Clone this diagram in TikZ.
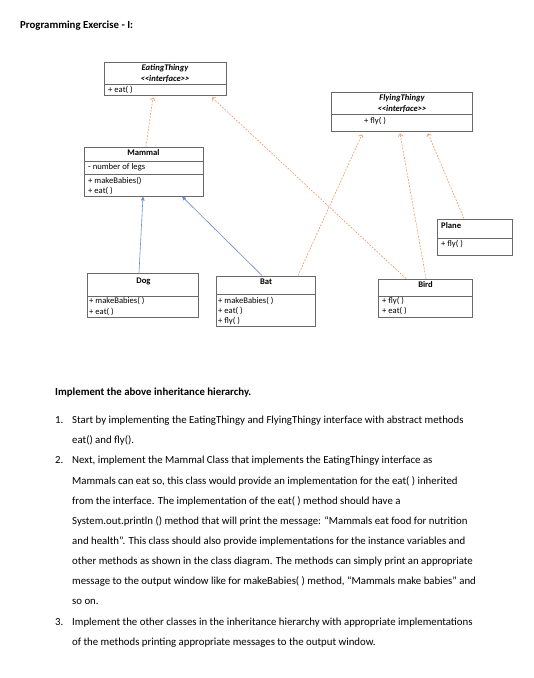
\documentclass[tikz,border=0pt]{standalone}
\usepackage{fontspec}
\setmainfont{Carlito}
\usetikzlibrary{arrows.meta}

\definecolor{implline}{RGB}{240,150,95}
\definecolor{inhline}{RGB}{105,140,210}
\definecolor{boxline}{RGB}{105,105,105}

\tikzset{
  classbox/.style={draw=boxline,line width=0.9pt,inner sep=0pt},
  divider/.style={draw=boxline,line width=0.9pt},
  member/.style={anchor=mid west,inner sep=0pt,font=\fontsize{8.6}{10}\selectfont},
  cname/.style={anchor=mid,inner sep=0pt,font=\fontsize{8.6}{10}\selectfont\bfseries},
  iname/.style={cname,font=\fontsize{8.6}{10}\selectfont\bfseries\itshape},
  impl/.style={draw=implline,line width=0.6pt,dash pattern=on 1.8pt off 1.4pt,
    -{Straight Barb[length=2.5pt,width=5pt]}},
  inh/.style={draw=inhline,line width=0.6pt,-{Triangle[length=4pt,width=3.5pt]}},
  body/.style={anchor=mid west,inner sep=0pt,font=\fontsize{10.8}{13}\selectfont}
}

\begin{document}
\begin{tikzpicture}[x=1pt,y=-1pt]
  \fill[white] (0,0) rectangle (534,678);
  \useasboundingbox (0,0) rectangle (534,678);

  \node[body,font=\fontsize{10.8}{13}\selectfont\bfseries] (title) at (20,26) {Programming Exercise - I:};

  % class boxes
  \node[classbox,minimum width=122pt,minimum height=33pt] (eat) at (165,78.5) {};
  \node[classbox,minimum width=141pt,minimum height=39pt] (fly) at (401.5,111.5) {};
  \node[classbox,minimum width=75pt,minimum height=36pt] (plane) at (474.5,237) {};
  \node[classbox,minimum width=119pt,minimum height=49pt] (mammal) at (143.5,171.5) {};
  \node[classbox,minimum width=111pt,minimum height=44pt] (dog) at (142.5,295) {};
  \node[classbox,minimum width=99pt,minimum height=50pt] (bat) at (265.5,301) {};
  \node[classbox,minimum width=94pt,minimum height=38pt] (bird) at (425,298) {};

  \draw[divider] (eat.west |- 0,84) -- (eat.east |- 0,84);
  \draw[divider] (fly.west |- 0,114) -- (fly.east |- 0,114);
  \draw[divider] (plane.west |- 0,238) -- (plane.east |- 0,238);
  \draw[divider] (mammal.west |- 0,161) -- (mammal.east |- 0,161);
  \draw[divider] (mammal.west |- 0,174) -- (mammal.east |- 0,174);
  \draw[divider] (dog.west |- 0,296) -- (dog.east |- 0,296);
  \draw[divider] (bat.west |- 0,294) -- (bat.east |- 0,294);
  \draw[divider] (bird.west |- 0,296) -- (bird.east |- 0,296);

  % box texts
  \node[iname] (eatname) at (165,68) {EatingThingy};
  \node[iname] (eatstereo) at (165,79) {<{}<interface>{}>};
  \node[member] (eatop) at (108,90) {+ eat( )};

  \node[iname] (flyname) at (402,98) {FlyingThingy};
  \node[iname] (flystereo) at (402,109) {<{}<interface>{}>};
  \node[member] (flyop) at (364,121) {+ fly( )};

  \node[cname,anchor=mid west] (planename) at (441,226) {Plane};
  \node[member] (planeop) at (441,244) {+ fly( )};

  \node[cname] (mammalname) at (143.5,153) {Mammal};
  \node[member] (mammalattr) at (88,167) {- number of legs};
  \node[member] (mammalop1) at (88,181) {+ makeBabies()};
  \node[member] (mammalop2) at (88,191) {+ eat( )};

  \node[cname] (dogname) at (143.5,281) {Dog};
  \node[member] (dogop1) at (89,301) {+ makeBabies( )};
  \node[member] (dogop2) at (89,312) {+ eat( )};

  \node[cname] (batname) at (266,282) {Bat};
  \node[member] (batop1) at (218,301) {+ makeBabies( )};
  \node[member] (batop2) at (218,311) {+ eat( )};
  \node[member] (batop3) at (218,321) {+ fly( )};

  \node[cname] (birdname) at (425.5,285) {Bird};
  \node[member] (birdop1) at (382,301) {+ fly( )};
  \node[member] (birdop2) at (382,311) {+ eat( )};

  % realisation and inheritance
  \draw[impl] ([xshift=2.5pt]mammal.north) -- ([xshift=-12pt,yshift=-2pt]eat.south);
  \draw[impl] ([xshift=-19pt]bird.north) -- ([xshift=47pt,yshift=-2pt]eat.south);
  \draw[impl] ([xshift=32.5pt]bat.north) -- ([xshift=-39.5pt,yshift=-3pt]fly.south);
  \draw[impl] ([xshift=1pt]bird.north) -- ([xshift=-1.5pt,yshift=-2pt]fly.south);
  \draw[impl] ([xshift=-10.5pt]plane.north) -- ([xshift=26.5pt,yshift=-2pt]fly.south);
  \draw[inh] ([xshift=-3.5pt]dog.north) -- ([xshift=-0.5pt]mammal.south);
  \draw[inh] ([xshift=-3.5pt]bat.north) -- ([xshift=38.5pt]mammal.south);

  % exercise text
  \node[body,font=\fontsize{10.8}{13}\selectfont\bfseries] (task) at (55,393) {Implement the above inheritance hierarchy.};
  \node[body] (num1) at (55,421) {1.};
  \node[body] (l1a) at (72,421) {Start by implementing the EatingThingy and FlyingThingy interface with abstract methods};
  \node[body] (l1b) at (72,441) {eat() and fly().};
  \node[body] (num2) at (55,461) {2.};
  \node[body] (l2a) at (72,461) {Next, implement the Mammal Class that implements the EatingThingy interface as};
  \node[body] (l2b) at (72,482) {Mammals can eat so, this class would provide an implementation for the eat( ) inherited};
  \node[body] (l2c) at (72,502) {from the interface. The implementation of the eat( ) method should have a};
  \node[body] (l2d) at (72,522) {System.out.println () method that will print the message: “Mammals eat food for nutrition};
  \node[body] (l2e) at (72,542) {and health”. This class should also provide implementations for the instance variables and};
  \node[body] (l2f) at (72,562) {other methods as shown in the class diagram. The methods can simply print an appropriate};
  \node[body] (l2g) at (72,582) {message to the output window like for makeBabies( ) method, “Mammals make babies” and};
  \node[body] (l2h) at (72,602) {so on.};
  \node[body] (num3) at (55,623) {3.};
  \node[body] (l3a) at (72,623) {Implement the other classes in the inheritance hierarchy with appropriate implementations};
  \node[body] (l3b) at (72,643) {of the methods printing appropriate messages to the output window.};
\end{tikzpicture}
\end{document}
